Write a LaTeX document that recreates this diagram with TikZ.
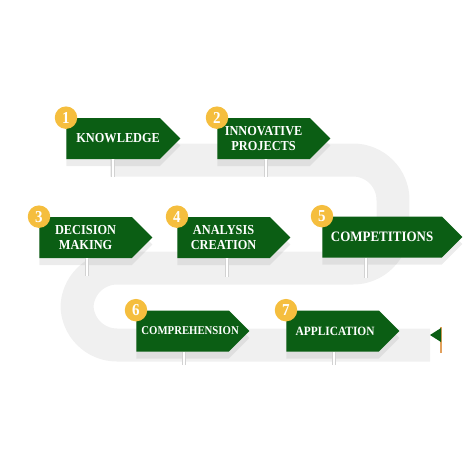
\documentclass[tikz,border=0pt]{standalone}
\usepackage{fontspec}
\setmainfont{Liberation Serif}[FakeStretch=0.9]
\usetikzlibrary{shapes.symbols,shadows}
\definecolor{boardgreen}{RGB}{11,94,20}
\definecolor{badgegold}{RGB}{245,190,62}
\definecolor{roadgray}{RGB}{240,240,240}
\definecolor{polewood}{RGB}{226,160,92}

\begin{document}
\begin{tikzpicture}[x=0.02cm, y=-0.02cm,
    board/.style={signal, signal to=east, signal pointer angle=90,
                  fill=boardgreen, minimum height=0.82cm, minimum width=2.26cm,
                  inner sep=0pt, anchor=west, text=white, align=center,
                  font=\bfseries\fontsize{7.8}{8.6}\selectfont,
                  drop shadow={shadow xshift=0pt, shadow yshift=-4pt, opacity=0.15}},
    badge/.style={circle, fill=badgegold, minimum size=0.45cm, inner sep=0pt,
                  text=white, font=\bfseries\fontsize{9.5}{9.5}\selectfont},
    post/.style={draw=gray!35, line width=0.4pt, double=white, double distance=1.4pt},
    road/.style={draw=roadgray, line width=0.66cm, rounded corners=0.8cm},
]
    \useasboundingbox (0,0) rectangle (474,474);

    % winding road behind the signs
    \draw[road] (110,160) -- (393,160) -- (393,268) -- (77,268)
        -- (77,345) -- (430,345);

    % sign boards
    \node[board] (s1) at (66,138.5) {\hspace*{0.2cm}KNOWLEDGE};
    \node[board] (s2) at (217,138.5) {INNOVATIVE\\PROJECTS};
    \node[board] (s3) at (39,237.5) {DECISION\\MAKING};
    \node[board] (s4) at (177,237.5) {ANALYSIS\\CREATION};
    \node[board, minimum width=2.8cm, font=\bfseries\fontsize{8.2}{8.6}\selectfont]
        (s5) at (322,237) {COMPETITIONS};
    \node[board, font=\bfseries\fontsize{6.8}{8}\selectfont] (s6) at (136,331)
        {\hspace*{0.3cm}\makebox[1.3cm]{COMPREHENSION}};
    \node[board, font=\bfseries\fontsize{7.2}{8}\selectfont] (s7) at (286,331)
        {\hspace*{0.1cm}APPLICATION};

    % posts
    \coordinate (p1) at (113,177);
    \coordinate (p2) at (266,177);
    \coordinate (p3) at (87,276);
    \coordinate (p4) at (227,277);
    \coordinate (p5) at (366,278);
    \coordinate (p6) at (184,365);
    \coordinate (p7) at (334,365);
    \foreach \i in {1,...,7}
        \draw[post] (s\i.south -| p\i) -- (p\i);

    % number badges
    \foreach \i in {1,...,7}
        \node[badge] (n\i) at (s\i.west |- s\i.north) {\i};

    % finish flag
    \coordinate (fb) at (441,353);
    \coordinate (ft) at (441,327);
    \draw[polewood, line width=1.2pt] (fb) -- (ft);
    \fill[boardgreen] (441,328) -- (430,335) -- (441,342) -- cycle;
\end{tikzpicture}
\end{document}
